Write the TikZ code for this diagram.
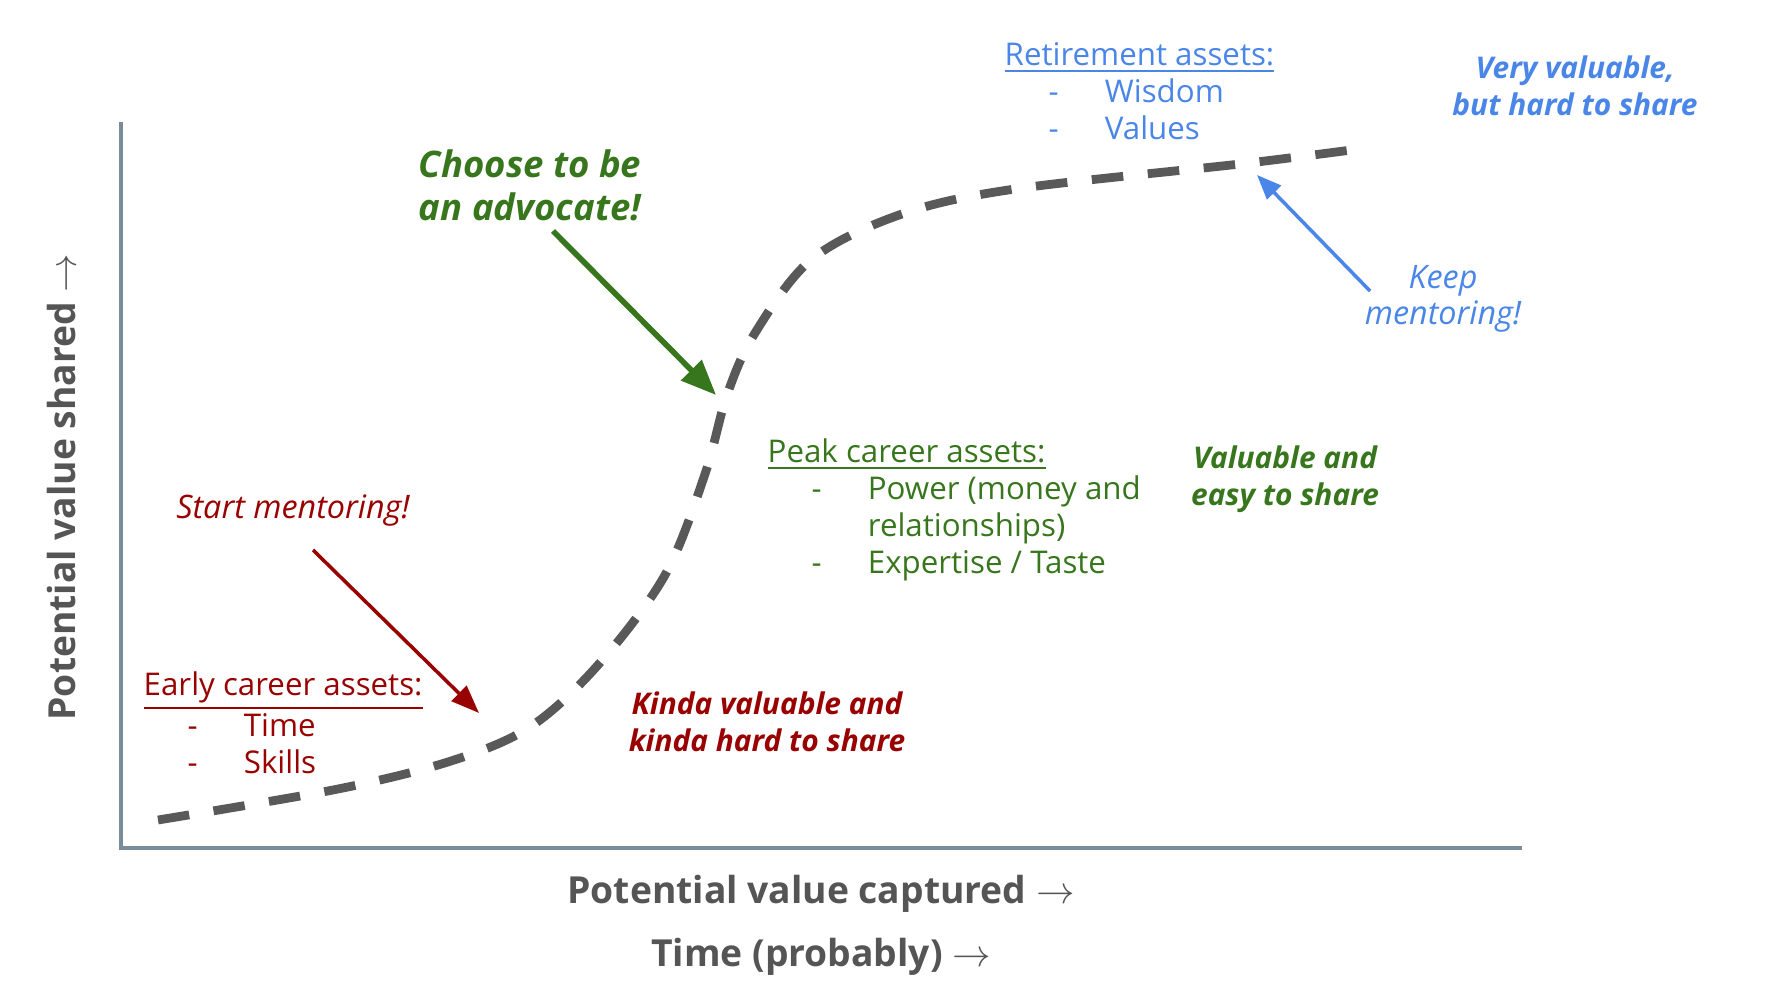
\documentclass[tikz,border=0pt]{standalone}
\usepackage{fontspec}
\setmainfont{Open Sans}
\usetikzlibrary{arrows.meta}

\definecolor{earlyred}{HTML}{990000}
\definecolor{peakgreen}{HTML}{38761D}
\definecolor{retireblue}{HTML}{4A86E8}
\definecolor{curvegray}{HTML}{595959}
\definecolor{labelgray}{HTML}{555555}
\definecolor{axisslate}{HTML}{7A8C99}

\tikzset{
  axisline/.style={draw=axisslate, line width=1.4pt},
  sharecurve/.style={draw=curvegray, line width=2.5pt, dash pattern=on 9pt off 7pt},
  axislabel/.style={text=labelgray, inner sep=0pt, font=\fontsize{10.6}{12}\selectfont\bfseries},
  assets/.style={anchor=north west, inner sep=0pt, align=left, font=\fontsize{8.9}{10.5}\selectfont},
  remark/.style={align=center, inner sep=0pt, font=\fontsize{8.5}{10.4}\selectfont\bfseries\itshape},
  cheer/.style={align=center, inner sep=0pt, font=\fontsize{9.2}{10.3}\selectfont\itshape},
  pointer/.style={-{Triangle[length=8pt,width=6pt]}, line width=1pt},
}
\newcommand{\assetitem}[1]{\hspace*{12.5pt}\makebox[16pt][l]{-}#1}
\newcommand{\assetcont}[1]{\hspace*{28.5pt}#1}

\begin{document}
\begin{tikzpicture}
  \useasboundingbox (0,0) rectangle (17.68,10.02);

  % axes
  \draw[axisline] (1.21,8.80) |- (15.22,1.54);
  \node[axislabel, rotate=90] (ylab) at (0.62,5.15) {Potential value shared $\rightarrow$};
  \node[axislabel] (xlab) at (8.21,1.08) {Potential value captured $\rightarrow$};
  \node[axislabel] (tlab) at (8.21,0.45) {Time (probably) $\rightarrow$};

  % the s-curve
  \draw[sharecurve] plot[smooth, tension=0.55] coordinates {
    (1.58,1.82) (3.38,2.13) (4.51,2.41) (5.30,2.75) (5.98,3.37) (6.65,4.27)
    (7.05,5.28) (7.27,6.07) (7.55,6.69) (8.12,7.43) (9.02,7.88) (10.15,8.13)
    (12.40,8.38) (13.59,8.53)};

  % early career
  \node[assets, text=earlyred] (early) at (1.43,3.31)
    {\underline{Early career assets:}\\ \assetitem{Time}\\ \assetitem{Skills}};
  \node[cheer, text=earlyred] (start) at (2.93,4.91) {Start mentoring!};
  \node[remark, text=earlyred] (kinda) at (7.67,2.80)
    {Kinda valuable and\\ kinda hard to share};
  \coordinate (redTail) at (3.13,4.52);
  \coordinate (redTip) at (4.79,2.89);
  \draw[pointer, earlyred] (redTail) -- (redTip);

  % peak career
  \node[assets, text=peakgreen] (peak) at (7.67,5.64)
    {\underline{Peak career assets:}\\ \assetitem{Power (money and}\\
     \assetcont{relationships)}\\ \assetitem{Expertise / Taste}};
  \node[remark, text=peakgreen] (easy) at (12.85,5.23) {Valuable and\\ easy to share};
  \node[remark, text=peakgreen, font=\fontsize{10.4}{12.2}\selectfont\bfseries\itshape]
    (advocate) at (5.30,8.17) {Choose to be\\ an advocate!};
  \coordinate (greenTail) at (5.53,7.71);
  \coordinate (greenTip) at (7.16,6.07);
  \draw[pointer, peakgreen, line width=1.6pt, -{Triangle[length=10pt,width=8pt]}]
    (greenTail) -- (greenTip);

  % retirement
  \node[assets, text=retireblue] (retire) at (10.04,9.60)
    {\underline{Retirement assets:}\\ \assetitem{Wisdom}\\ \assetitem{Values}};
  \node[remark, text=retireblue] (hard) at (15.75,9.16) {Very valuable,\\ but hard to share};
  \node[cheer, text=retireblue] (keep) at (14.43,7.03) {Keep\\ mentoring!};
  \coordinate (blueTail) at (13.70,7.11);
  \coordinate (blueTip) at (12.57,8.27);
  \draw[pointer, retireblue, -{Triangle[length=7pt,width=5.5pt]}] (blueTail) -- (blueTip);
\end{tikzpicture}
\end{document}
